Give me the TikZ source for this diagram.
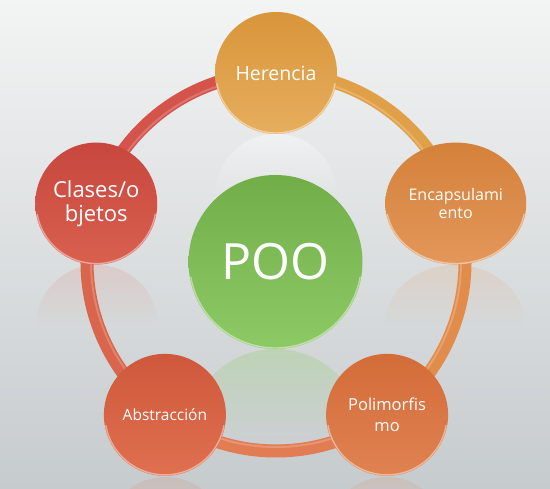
\documentclass[tikz,border=0pt]{standalone}
\usepackage{fontspec}
\setmainfont{Open Sans}
\usetikzlibrary{shapes.geometric}
\definecolor{bgtop}{HTML}{F3F4F4}
\definecolor{bgbot}{HTML}{C6CBCD}
\definecolor{herT}{HTML}{D9953A}\definecolor{herB}{HTML}{E6AE5E}
\definecolor{encT}{HTML}{D4813B}\definecolor{encB}{HTML}{E3975A}
\definecolor{claT}{HTML}{C7473E}\definecolor{claB}{HTML}{D9604F}
\definecolor{absT}{HTML}{CF583B}\definecolor{absB}{HTML}{DF7050}
\definecolor{polT}{HTML}{D36C39}\definecolor{polB}{HTML}{E08252}
\definecolor{pooT}{HTML}{72AE48}\definecolor{pooB}{HTML}{8DC965}
\definecolor{ringHE}{HTML}{E0A048}
\definecolor{ringEP}{HTML}{E18C4A}
\definecolor{ringPA}{HTML}{E27C52}
\definecolor{ringAC}{HTML}{D9654C}
\definecolor{ringCH}{HTML}{D4534B}
\colorlet{bgA}{bgtop!73!bgbot}\colorlet{bgB}{bgtop!60!bgbot}
\colorlet{bgC}{bgtop!46!bgbot}\colorlet{bgD}{bgtop!33!bgbot}
\colorlet{bgE}{bgtop!29!bgbot}\colorlet{bgF}{bgtop!11!bgbot}
\tikzset{
  ball/.style={circle, minimum size=122pt, inner sep=0pt, align=center, text=white},
  ringseg/.style={line width=13pt},
  ringhi/.style={line width=2pt, white, opacity=0.2},
  rimline/.style={line width=1.4pt, white, opacity=0.45}
}
\begin{document}
\begin{tikzpicture}[x=1pt,y=1pt]
\useasboundingbox (0,0) rectangle (550,489);
\clip (0,0) rectangle (550,489);
\shade[top color=bgtop, bottom color=bgbot] (0,0) rectangle (550,489);
% reflections (upper half of mirrored discs, fading into the background)
\shade[top color=white!40!bgA, bottom color=bgB] (337,294) arc[start angle=0, end angle=180, radius=61] -- cycle;
\shade[top color=encB!18!bgC, bottom color=bgD] (525.5,163) arc[start angle=0, end angle=180, x radius=70.5, y radius=61] -- cycle;
\shade[top color=claB!15!bgC, bottom color=bgD] (158,163) arc[start angle=0, end angle=180, radius=61] -- cycle;
\shade[top color=pooB!30!bgE, bottom color=bgF] (362.5,53) arc[start angle=0, end angle=180, radius=87] -- cycle;
\shade[top color=absB!15!bgbot, bottom color=bgbot] (226.5,-49) arc[start angle=0, end angle=180, radius=61] -- cycle;
\shade[top color=polB!15!bgbot, bottom color=bgbot] (447.5,-49) arc[start angle=0, end angle=180, radius=61] -- cycle;
% node positions
\coordinate (ctr) at (276,227);
\path (ctr) ++(90:189) coordinate (pher);
\path (ctr) ++(18:189) coordinate (penc);
\path (ctr) ++(162:189) coordinate (pcla);
\path (ctr) ++(-54:189) coordinate (ppol);
\path (ctr) ++(-126:189) coordinate (pabs);
% ring
\draw[ringseg, ringCH] (pher) arc[start angle=90, end angle=162, radius=189];
\draw[ringseg, ringHE] (pher) arc[start angle=90, end angle=18, radius=189];
\draw[ringseg, ringEP] (penc) arc[start angle=18, end angle=-54, radius=189];
\draw[ringseg, ringPA] (ppol) arc[start angle=-54, end angle=-126, radius=189];
\draw[ringseg, ringAC] (pabs) arc[start angle=-126, end angle=-198, radius=189];
\draw[ringhi] ([shift={(90:-4)}]pher) arc[start angle=90, end angle=450, radius=185];
% nodes
\node[ball, top color=herT, bottom color=herB, font=\fontsize{19.5}{22}\selectfont] (her) at (pher) {Herencia};
\node[ball, ellipse, minimum width=141pt, minimum height=122pt, top color=encT, bottom color=encB, font=\fontsize{16}{18.5}\selectfont] (enc) at (penc) {Encapsulami\\ento};
\node[ball, top color=claT, bottom color=claB, font=\fontsize{22}{23.5}\selectfont] (cla) at (pcla) {Clases/o\\bjetos};
\node[ball, top color=polT, bottom color=polB, font=\fontsize{16.5}{20.5}\selectfont] (pol) at (ppol) {Polimorfis\\mo};
\node[ball, top color=absT, bottom color=absB, font=\fontsize{15.5}{18}\selectfont] (abs) at (pabs) {Abstracción};
\node[ball, minimum size=174pt, top color=pooT, bottom color=pooB, font=\fontsize{50}{56}\selectfont] (poo) at (275.5,227) {POO};
% rims
\foreach \n/\r/\s in {her/60/60, enc/69.5/60, cla/60/60, pol/60/60, abs/60/60, poo/86/86}{
  \draw[rimline] ([shift={(190:\r pt and \s pt)}]\n.center) arc[start angle=190, end angle=350, x radius=\r pt, y radius=\s pt];
}
\end{tikzpicture}
\end{document}
